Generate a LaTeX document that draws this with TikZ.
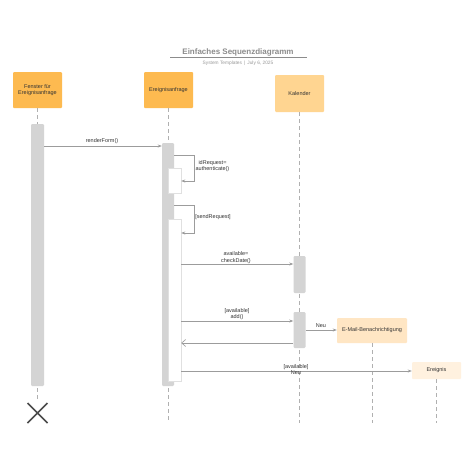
\documentclass[tikz,border=0pt]{standalone}
\usepackage{fontspec}
\setmainfont{Liberation Sans}
\usetikzlibrary{arrows.meta}
\definecolor{actorA}{HTML}{FDBA50}
\definecolor{actorB}{HTML}{FFD591}
\definecolor{actorC}{HTML}{FFE6C4}
\definecolor{actorD}{HTML}{FFF1DF}
\definecolor{actgrey}{HTML}{D4D4D4}
\definecolor{msggrey}{HTML}{9C9C9C}
\definecolor{lifegrey}{HTML}{B0B0B0}
\definecolor{txt}{HTML}{333333}
\begin{document}
\begin{tikzpicture}[x=1pt,y=-1pt,
  actor/.style={rectangle,rounded corners=1pt,draw=none,text=txt,align=center,
    font=\fontsize{5.5}{6.6}\selectfont,inner sep=1pt},
  lifeline/.style={draw=lifegrey,line width=0.6pt,dash pattern=on 4pt off 3pt},
  actbar/.style={rectangle,rounded corners=1.2pt,fill=actgrey,draw=none,minimum width=12pt,inner sep=0pt},
  nestbar/.style={rectangle,fill=white,draw=black!12,line width=0.4pt,minimum width=13pt,inner sep=0pt},
  msg/.style={draw=msggrey,line width=0.6pt,-{Stealth[length=4pt,width=3pt]}},
  retmsg/.style={draw=msggrey,line width=0.6pt,-{Straight Barb[length=4pt,width=7pt]}},
  lbl/.style={text=txt,align=center,font=\fontsize{5.5}{6.4}\selectfont,inner sep=0pt}]
\useasboundingbox (0,0) rectangle (474,474);
\fill[white] (0,0) rectangle (474,474);

% title
\node[font=\bfseries\fontsize{8}{9}\selectfont,text=black!45] (title) at (238,52) {Einfaches Sequenzdiagramm};
\coordinate (ulA) at (170,57.5);
\coordinate (ulB) at (307,57.5);
\draw[black!45,line width=0.6pt] (ulA) -- (ulB);
\node[font=\fontsize{4.8}{5.5}\selectfont,text=black!40] (subtitle) at (238,63) {System Templates \,|\, July 6, 2025};

% actors
\node[actor,fill=actorA,minimum width=49pt,minimum height=36pt] (fenster) at (37.5,90) {Fenster für\\Ereignisanfrage};
\node[actor,fill=actorA,minimum width=49pt,minimum height=36pt] (anfrage) at (168.5,90) {Ereignisanfrage};
\node[actor,fill=actorB,minimum width=49pt,minimum height=37pt] (kalender) at (299.5,93.5) {Kalender};
\node[actor,fill=actorC,minimum width=70pt,minimum height=25pt] (email) at (372,330.5) {E-Mail-Benachrichtigung};
\node[actor,fill=actorD,minimum width=49pt,minimum height=17pt] (ereignis) at (436.5,370.5) {Ereignis};

% lifeline ends
\coordinate (endA) at (37.5,400);
\coordinate (endB) at (168.5,423);
\coordinate (endC) at (299.5,423);
\coordinate (endD) at (372,423);
\coordinate (endE) at (436.5,423);
\draw[lifeline] (fenster.south) -- (endA);
\draw[lifeline] (anfrage.south) -- (endB);
\draw[lifeline] (kalender.south) -- (endC);
\draw[lifeline] (email.south) -- (endD);
\draw[lifeline] (ereignis.south) -- (endE);

% activation bars
\node[actbar,minimum width=13pt,minimum height=262pt] (act1) at (37.5,255) {};
\node[actbar,minimum height=243pt] (act2) at (168,264.5) {};
\node[nestbar,minimum height=25pt] (nestA) at (174.5,180.5) {};
\node[nestbar,minimum height=162pt] (nestB) at (174.5,300) {};
\node[actbar,minimum height=37pt] (act3a) at (299.5,274.5) {};
\node[actbar,minimum height=36pt] (act3b) at (299.5,330) {};

% messages
\draw[msg] (act1.east |- 0,146) -- (act2.west |- 0,146);
\node[lbl] (l1) at (102,141.5) {renderForm()};

\coordinate (s1a) at (194,155);
\coordinate (s1b) at (194,181);
\draw[msg] (act2.east |- 0,155) -- (s1a) -- (s1b) -- (nestA.east |- 0,181);
\node[lbl] (l2) at (212.5,166) {idRequest=\\authenticate()};

\coordinate (s2a) at (194,205);
\coordinate (s2b) at (194,233);
\draw[msg] (act2.east |- 0,205) -- (s2a) -- (s2b) -- (nestB.east |- 0,233);
\node[lbl] (l3) at (213,217) {[sendRequest]};

\draw[msg] (nestB.east |- 0,264) -- (act3a.west |- 0,264);
\node[lbl] (l4) at (236,257.5) {available=\\checkDate()};

\draw[msg] (nestB.east |- 0,321) -- (act3b.west |- 0,321);
\node[lbl] (l5) at (237,314) {[available]\\add()};

\draw[retmsg] (act3b.west |- 0,343) -- (nestB.east |- 0,343);

\draw[msg] (act3b.east |- 0,330) -- (email.west |- 0,330);
\node[lbl] (l6) at (321,326) {Neu};

\draw[msg] (nestB.east |- 0,371) -- (ereignis.west |- 0,371);
\node[lbl] (l7) at (296,369.5) {[available]\\Neu};

% destruction
\coordinate (xa) at (27.5,403);
\coordinate (xb) at (47.5,423);
\coordinate (xc) at (27.5,423);
\coordinate (xd) at (47.5,403);
\draw[black!70,line width=1.6pt] (xa) -- (xb) (xc) -- (xd);
\end{tikzpicture}
\end{document}
